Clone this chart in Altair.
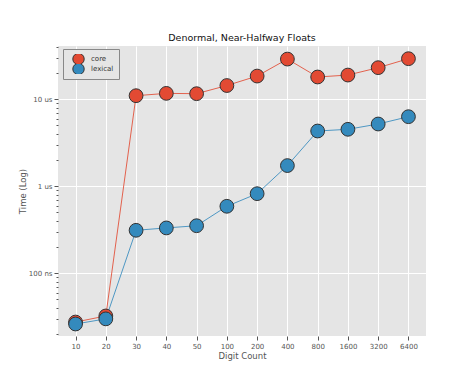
import altair as alt
import pandas as pd

digits = ["10", "20", "30", "40", "50", "100", "200", "400", "800", "1600", "3200", "6400"]
core = [27.5, 32.3, 11000, 11700, 11600, 14400, 18500, 29000, 18050, 19000, 23100, 29300]
lexical = [26.1, 29.9, 312, 332, 352, 589, 822, 1730, 4320, 4520, 5200, 6310]
series = ["core", "lexical"]
colors = ["#E24A33", "#348ABD"]

rows = []
for d, c, l in zip(digits, core, lexical):
    rows.append({"digits": d, "series": "core", "time": c})
    rows.append({"digits": d, "series": "lexical", "time": l})
df = pd.DataFrame(rows)

major = [100, 1000, 10000]
minor = [20, 30, 40, 50, 60, 70, 80, 90,
         200, 300, 400, 500, 600, 700, 800, 900,
         2000, 3000, 4000, 5000, 6000, 7000, 8000, 9000,
         20000, 30000, 40000]
is_major = "datum.value == 100 || datum.value == 1000 || datum.value == 10000"

font = "DejaVu Sans"

x_enc = alt.X("digits:O", sort=digits,
              scale=alt.Scale(type="point", padding=0.58),
              axis=alt.Axis(title="Digit Count", labelAngle=0, labelFontSize=7,
                            labelColor="#555555", titleFontSize=8.5, titleColor="#555555",
                            titleFontWeight="normal", tickColor="#555555", tickSize=4,
                            labelPadding=2, domain=False, grid=True, gridColor="white",
                            gridWidth=1, titleY=19, titleBaseline="middle"))

y_enc = alt.Y("time:Q",
              scale=alt.Scale(type="log", domain=[19, 41000], nice=False),
              axis=alt.Axis(title="Time (Log)", values=major + minor,
                            labelExpr="datum.value == 10000 ? '10 us' : datum.value == 1000 ? '1 us' : datum.value == 100 ? '100 ns' : ''",
                            labelFontSize=7, labelColor="#555555", titleFontSize=8.5,
                            titleColor="#555555", titleFontWeight="normal",
                            tickColor="#555555",
                            tickSize={"condition": {"test": is_major, "value": 4}, "value": 2},
                            gridOpacity={"condition": {"test": is_major, "value": 1}, "value": 0},
                            gridColor="white", gridWidth=1, domain=False, labelPadding=2,
                            titleX=-36, titleY=145, titleAngle=-90, titleAlign="center",
                            titleBaseline="middle"))

legend = alt.Legend(title=None, orient="none", legendX=5, legendY=3,
                    symbolType="circle", symbolSize=130,
                    symbolStrokeColor="#333333", symbolStrokeWidth=1,
                    labelFontSize=7, labelColor="#333333", labelOffset=6,
                    fillColor="#e5e5e5", strokeColor="#888888",
                    padding=5, rowPadding=0, clipHeight=10, cornerRadius=0,
                    symbolOffset=4)

cscale = alt.Scale(domain=series, range=colors)

lines = alt.Chart(df).mark_line(strokeWidth=1, opacity=0.85).encode(
    x=x_enc, y=y_enc, stroke=alt.Stroke("series:N", scale=cscale, legend=None),
)

points = alt.Chart(df).mark_point(shape="circle", filled=True, size=190, opacity=1,
                                  stroke="#333333", strokeWidth=1).encode(
    x=x_enc, y=y_enc, fill=alt.Fill("series:N", scale=cscale, legend=legend),
)

chart = alt.layer(lines, points).properties(
    width=368, height=290,
    title=alt.TitleParams("Denormal, Near-Halfway Floats", fontSize=9.5,
                          fontWeight="normal", font=font, color="#111111", offset=4),
    autosize=alt.AutoSizeParams(type="none"),
    padding={"left": 50, "top": 38, "right": 40, "bottom": 35},
).resolve_legend(stroke="independent", fill="independent").configure(font=font).configure_view(fill="#E5E5E5", stroke=None)

chart.save("out.html", embed_options={"renderer": "svg", "actions": False})
